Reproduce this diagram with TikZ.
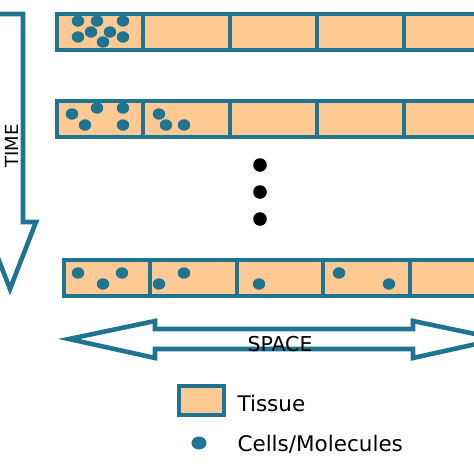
\documentclass[tikz,border=0pt]{standalone}
\usepackage{fontspec}
\setmainfont{DejaVu Sans}
\usepackage{tikz}
\definecolor{teal}{HTML}{1E7491}
\definecolor{peach}{HTML}{FFC994}
\tikzset{
  cell/.style={draw=teal, fill=peach, line width=4.6pt},
  mol/.style={fill=teal, x radius=6.2pt, y radius=5.7pt},
  outline/.style={draw=teal, line width=4.6pt, line join=miter}
}

\begin{document}
\begin{tikzpicture}[x=1pt, y=-1pt]
\useasboundingbox (0,0) rectangle (474,474);
% tissue rows
\foreach \a/\b in {57/143, 143/230, 230/317, 317/404, 404/491}
  \draw[cell] (\a,14) rectangle (\b,50);
\foreach \a/\b in {57/143, 143/230, 230/317, 317/404, 404/491}
  \draw[cell] (\a,101) rectangle (\b,137);
\foreach \a/\b in {64/150, 150/237, 237/323, 323/410, 410/497}
  \draw[cell] (\a,260) rectangle (\b,296);
% cells in row 1
\foreach \x/\y in {78/21, 97/21, 123/21, 78/37, 91/32, 110/32, 123/37, 103/42}
  \fill[mol] (\x,\y) ellipse [];
% cells in row 2
\foreach \x/\y in {72/114, 97/108, 123/108, 85/125, 123/125, 159/114, 166/125, 184/125}
  \fill[mol] (\x,\y) ellipse [];
% cells in row 3
\foreach \x/\y in {78/273, 122/273, 103/284, 159/284, 184/273, 259/284, 339/273, 389/284}
  \fill[mol] (\x,\y) ellipse [];
% vertical dots
\foreach \y in {165, 192, 219}
  \fill (260,\y) circle (6.8pt);
% time arrow
\draw[outline] (-3,14) -- (23,14) -- (23,222) -- (36,222) -- (10,289) -- (-16,222) -- (-3,222) -- cycle;
\node[rotate=90, font=\fontsize{18}{20}\selectfont] (time) at (12,146) {TIME};
% space arrow
\draw[outline] (69,339) -- (155,321) -- (155,329) -- (413,329) -- (413,321) -- (499,339)
  -- (413,358) -- (413,349) -- (155,349) -- (155,358) -- cycle;
\node[font=\fontsize{20.5}{24}\selectfont] (space) at (280,344) {SPACE};
% legend
\draw[cell] (179,386) rectangle (224,415);
\node[anchor=west, font=\fontsize{21.5}{24}\selectfont] (tissue) at (234,403) {Tissue};
\fill[teal] (199,443) ellipse [x radius=7.5pt, y radius=6.5pt];
\node[anchor=west, font=\fontsize{21.5}{24}\selectfont] (mols) at (234,444) {Cells/Molecules};
\end{tikzpicture}
\end{document}
